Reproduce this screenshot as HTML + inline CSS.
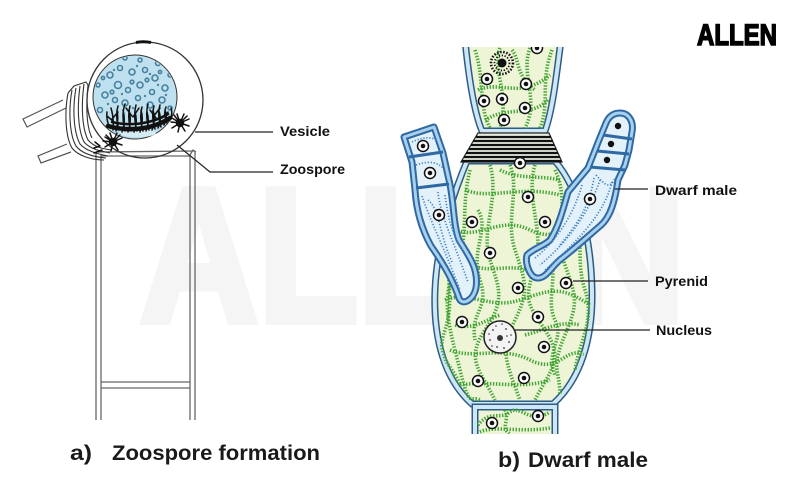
<!DOCTYPE html>
<html><head><meta charset="utf-8"><style>
html,body{margin:0;padding:0;background:#fff;}
svg{display:block;}
text{font-family:"Liberation Sans",Arial,sans-serif;}
</style></head><body>
<svg width="800" height="497" viewBox="0 0 800 497" xmlns="http://www.w3.org/2000/svg">
<defs>
  <clipPath id="rc"><rect x="0" y="47" width="800" height="387"/></clipPath>
  <clipPath id="mainc"><path d="M 467,161 C 455,190 437,240 435,290 C 433,340 445,380 472,404 L 553,404 C 580,380 593,340 592,290 C 591,240 580,190 555,161 Z"/></clipPath>
  <clipPath id="upc"><path d="M 465,40 C 469,80 474,112 482,131 L 545,131 C 552,112 556,80 561,40 Z"/></clipPath>
  <clipPath id="lowc"><rect x="475" y="407" width="80" height="30"/></clipPath>
  <clipPath id="sph"><circle cx="135" cy="97" r="41"/></clipPath>
</defs>
<rect width="800" height="497" fill="#fff"/>
<!-- watermark -->
<text x="140" y="321" font-size="190" font-weight="bold" fill="#f5f5f5" textLength="545" lengthAdjust="spacingAndGlyphs" stroke="#f5f5f5" stroke-width="8">ALLEN</text>
<!-- logo -->
<text x="697" y="45" font-size="30" font-weight="900" fill="#000" textLength="80" lengthAdjust="spacingAndGlyphs" stroke="#000" stroke-width="1.6">ALLEN</text>

<!-- ============ LEFT DIAGRAM ============ -->
<g stroke="#666" stroke-width="1.3" fill="none">
  <line x1="96" y1="152" x2="96" y2="420"/>
  <line x1="101" y1="155" x2="101" y2="420"/>
  <line x1="190" y1="155" x2="190" y2="420"/>
  <line x1="195" y1="151" x2="195" y2="420"/>
  <line x1="101" y1="382" x2="190" y2="382"/>
  <line x1="101" y1="388" x2="190" y2="388"/>
  <path d="M 96,152 L 195,151"/>
  <path d="M 101,156 L 190,156"/>
  <path d="M 190,155 L 193,150 L 196,152"/>
</g>
<!-- left appendage bars -->
<g stroke="#555" stroke-width="1.2" fill="#fff">
  <path d="M 63,100 L 23,119 L 27,127 L 66,108"/>
  <path d="M 67,144 L 38,156 L 41,163 L 71,152"/>
</g>
<g stroke="#333" stroke-width="1.1" fill="none">
  <path d="M 68,93 C 64,115 66,138 72,148 C 78,156 92,160 104,160"/>
  <path d="M 72,90 C 68,112 70,136 76,146 C 82,154 95,157 106,158"/>
  <path d="M 76,88 C 72,110 74,133 80,144 C 86,151 98,154 108,156"/>
  <path d="M 80,86 C 77,108 78,130 84,142 C 90,149 100,151 110,153"/>
  <path d="M 84,84 C 81,106 82,128 88,140 C 94,147 103,149 112,150"/>
  <path d="M 68,93 L 74,86 L 86,82 L 88,85"/>
  <path d="M 88,85 C 86,106 86,126 92,138"/>
</g>
<!-- outer vesicle circle -->
<circle cx="145" cy="100" r="58" fill="none" stroke="#333" stroke-width="1.3"/>
<path d="M 136,42.5 Q 143,41 151,42.5" stroke="#111" stroke-width="3" fill="none"/>
<!-- blue sphere -->
<circle cx="135" cy="97" r="42" fill="#bfe0ee" stroke="#333" stroke-width="1"/>
<g clip-path="url(#sph)" fill="none" stroke="#46829f" stroke-width="1.6">
  <circle cx="110" cy="75" r="3"/><circle cx="120" cy="68" r="2.5"/><circle cx="132" cy="72" r="3"/>
  <circle cx="145" cy="70" r="2.5"/><circle cx="155" cy="78" r="3"/><circle cx="165" cy="88" r="3"/>
  <circle cx="118" cy="85" r="3.5"/><circle cx="128" cy="90" r="2.5"/><circle cx="140" cy="85" r="3"/>
  <circle cx="152" cy="92" r="2.5"/><circle cx="162" cy="100" r="3"/><circle cx="105" cy="95" r="3"/>
  <circle cx="115" cy="100" r="2.5"/><circle cx="125" cy="103" r="3"/><circle cx="138" cy="98" r="2.5"/>
  <circle cx="150" cy="105" r="3"/><circle cx="100" cy="110" r="2.5"/><circle cx="170" cy="75" r="2"/>
  <circle cx="108" cy="62" r="2"/><circle cx="140" cy="60" r="2"/><circle cx="158" cy="63" r="2.5"/>
  <circle cx="125" cy="58" r="2"/><circle cx="170" cy="108" r="2"/><circle cx="98" cy="85" r="2"/>
  <circle cx="132" cy="82" r="1.8"/><circle cx="147" cy="80" r="1.8"/><circle cx="112" cy="92" r="1.8"/>
  <circle cx="160" cy="72" r="1.6"/><circle cx="103" cy="78" r="1.6"/>
</g>
<g clip-path="url(#sph)" fill="#4a86a3">
  <circle cx="114" cy="70" r="1.2"/><circle cx="137" cy="66" r="1.2"/><circle cx="150" cy="74" r="1.2"/>
  <circle cx="122" cy="94" r="1.2"/><circle cx="145" cy="96" r="1.2"/><circle cx="158" cy="85" r="1.2"/>
  <circle cx="108" cy="104" r="1.2"/><circle cx="133" cy="108" r="1.2"/><circle cx="166" cy="95" r="1.2"/>
</g>
<ellipse cx="138" cy="133" rx="18" ry="4" fill="#d6ecf4"/>
<!-- zoospore hairs -->
<g stroke="#111" stroke-width="1.5" fill="none" stroke-linecap="round">
  <path d="M110,128 Q106,120 107,112 M113,130 Q114,118 111,108 M116,131 Q119,120 117,110 M119,130 Q115,116 118,106 M122,132 Q126,121 123,110 M125,131 Q121,115 125,104 M128,132 Q132,120 129,110 M131,131 Q127,117 130,106 M134,132 Q138,122 135,112 M137,131 Q133,116 136,105 M140,132 Q144,120 141,110 M143,131 Q139,118 142,107 M146,131 Q150,122 147,112 M149,130 Q145,115 148,104 M152,130 Q156,120 153,110 M155,129 Q151,116 154,106 M158,128 Q162,120 159,111 M161,127 Q157,114 160,105 M164,125 Q168,118 165,110 M167,123 Q163,114 166,107 M170,120 Q173,114 171,108"/>
  <path d="M107,116 L114,122 M118,112 L112,119 M126,108 L132,116 M139,108 L133,117 M150,110 L156,118 M160,108 L153,117 M168,112 L162,118"/>
  <path d="M108,126 C 125,131 150,131 170,118" stroke-width="4.5"/>
  <path d="M112,122 C 128,126 150,125 168,114" stroke-width="2.5"/>
  <path d="M180,123 l-8,-5 M180,123 l-3,-9 M180,123 l4,-9 M180,123 l9,-4 M180,123 l9,3 M180,123 l5,8 M180,123 l-2,9 M180,123 l-8,5 M180,123 l-9,-1 M180,123 l-6,-8 M180,123 l7,-7"/>
  <circle cx="180" cy="123" r="3.5" fill="#111"/>
  <path d="M113,142 l-8,-5 M113,142 l-3,-9 M113,142 l4,-9 M113,142 l9,-4 M113,142 l9,3 M113,142 l5,8 M113,142 l-2,9 M113,142 l-8,5 M113,142 l-10,-1 M113,142 l-7,-7 M113,142 l7,-7"/>
  <circle cx="113" cy="142" r="3.5" fill="#111"/>
  <path d="M100,146 l-6,2 M100,146 l-5,-4 M102,150 l-8,3"/>
</g>
<!-- left leaders -->
<g stroke="#222" stroke-width="1.2" fill="none">
  <path d="M 195,132 L 273,132"/>
  <path d="M 177,145 L 210,172 L 273,172"/>
</g>
<text x="280" y="136" font-size="14" font-weight="bold" fill="#111" textLength="50" lengthAdjust="spacingAndGlyphs">Vesicle</text>
<text x="280" y="174" font-size="14" font-weight="bold" fill="#111" textLength="65" lengthAdjust="spacingAndGlyphs">Zoospore</text>

<!-- ============ RIGHT DIAGRAM ============ -->
<g clip-path="url(#rc)">
  <!-- upper cell -->
  <path d="M 465,40 C 469,80 474,112 482,131 L 545,131 C 552,112 556,80 561,40 Z" fill="#eef4d6" stroke="#2b5d87" stroke-width="7"/>
  <path d="M 465,40 C 469,80 474,112 482,131 L 545,131 C 552,112 556,80 561,40 Z" fill="none" stroke="#cfe6f4" stroke-width="4"/>
  <g clip-path="url(#upc)" fill="none" stroke="#44a536" stroke-width="3.6" stroke-dasharray="1.4 1.6">
    <path d="M 475,50 C 485,80 478,105 490,128"/>
    <path d="M 500,48 C 492,70 510,95 500,128"/>
    <path d="M 530,48 C 520,75 540,100 525,128"/>
    <path d="M 552,50 C 540,80 550,105 540,128"/>
    <path d="M 478,90 C 500,80 520,100 550,75"/>
    <path d="M 485,120 C 510,105 530,118 548,100"/>
    <path d="M 512,50 C 520,60 515,75 535,90"/>
  </g>
  <!-- main cell -->
  <path d="M 467,161 C 455,190 437,240 435,290 C 433,340 445,380 472,404 L 553,404 C 580,380 593,340 592,290 C 591,240 580,190 555,161 Z" fill="#eef4d6" stroke="#2b5d87" stroke-width="7"/>
  <path d="M 467,161 C 455,190 437,240 435,290 C 433,340 445,380 472,404 L 553,404 C 580,380 593,340 592,290 C 591,240 580,190 555,161 Z" fill="none" stroke="#cfe6f4" stroke-width="4"/>
  <g clip-path="url(#mainc)" fill="none" stroke="#44a536" stroke-width="3.6" stroke-dasharray="1.4 1.6">
    <path d="M 470,170 C 460,210 470,240 455,270 S 450,330 460,370 S 470,395 480,400"/>
    <path d="M 490,165 C 500,200 480,230 490,260 S 505,300 485,330 S 480,370 495,400"/>
    <path d="M 510,165 C 520,190 505,220 515,250 S 530,290 515,320 S 505,360 520,400"/>
    <path d="M 535,165 C 525,200 545,230 535,265 S 525,300 545,330 S 550,370 535,400"/>
    <path d="M 555,170 C 570,200 555,235 565,265 S 580,300 565,335 S 560,370 560,395"/>
    <path d="M 575,200 C 585,230 575,260 585,290 S 580,340 575,370"/>
    <path d="M 450,250 C 445,280 455,300 445,330 S 450,360 460,385"/>
    <path d="M 455,230 C 480,240 500,215 530,230 S 570,215 585,240"/>
    <path d="M 445,300 C 470,290 490,310 520,300 S 560,285 590,305"/>
    <path d="M 450,350 C 475,360 500,345 530,360 S 565,345 585,355"/>
    <path d="M 465,190 C 490,200 520,185 560,195"/>
    <path d="M 460,385 C 490,380 520,390 550,380"/>
    <path d="M 500,170 C 520,180 540,175 560,180"/>
    <path d="M 478,210 C 490,230 470,250 480,280 S 470,310 475,340"/>
    <path d="M 548,250 C 560,275 545,300 555,320 S 545,350 555,375"/>
    <path d="M 470,265 C 495,275 510,260 540,275"/>
    <path d="M 455,325 C 475,330 485,320 500,315"/>
    <path d="M 525,335 C 545,330 560,320 580,325"/>
  </g>
  <!-- lower cell -->
  <path d="M 475,445 L 475,407 L 555,407 L 555,445" fill="#eef4d6" stroke="#2b5d87" stroke-width="7"/>
  <path d="M 475,445 L 475,407 L 555,407 L 555,445" fill="none" stroke="#cfe6f4" stroke-width="4"/>
  <g clip-path="url(#lowc)" fill="none" stroke="#44a536" stroke-width="3.6" stroke-dasharray="1.4 1.6">
    <path d="M 478,425 C 490,410 500,420 510,412 S 530,425 550,412"/>
    <path d="M 480,432 C 495,425 520,433 550,428"/>
    <path d="M 505,410 C 510,420 500,428 510,434"/>
  </g>
  <!-- rings -->
  <polygon points="478,133 549,133 562,162 461,162" fill="#e8eee0" stroke="#222" stroke-width="1.2"/>
  <g stroke="#111" stroke-width="2.2">
    <line x1="476" y1="137" x2="551" y2="137"/>
    <line x1="473" y1="141" x2="553" y2="141"/>
    <line x1="471" y1="145" x2="554" y2="145"/>
    <line x1="469" y1="149" x2="556" y2="149"/>
    <line x1="466" y1="153" x2="558" y2="153"/>
    <line x1="464" y1="157" x2="560" y2="157"/>
    <line x1="462" y1="161" x2="561" y2="161"/>
  </g>
  <!-- upper nucleus dotted -->
  <circle cx="502" cy="63" r="11" fill="none" stroke="#111" stroke-width="2.6" stroke-dasharray="1.5 1.6"/>
  <circle cx="502" cy="63" r="7.5" fill="none" stroke="#111" stroke-width="1.8" stroke-dasharray="1.3 1.6"/>
  <circle cx="502" cy="63" r="4.5" fill="#111"/>
  <!-- pyrenoids -->
  <g fill="#fff" stroke="#111" stroke-width="1.5">
    <circle cx="537" cy="48" r="5.5"/>
    <circle cx="487" cy="79" r="5.5"/><circle cx="526" cy="84" r="5.5"/><circle cx="484" cy="101" r="5.5"/>
    <circle cx="502" cy="99" r="5.5"/><circle cx="525" cy="108" r="5.5"/><circle cx="504" cy="120" r="5.5"/>
    <circle cx="520" cy="163" r="5.5"/><circle cx="528" cy="197" r="5.5"/><circle cx="472" cy="222" r="5.5"/>
    <circle cx="545" cy="222" r="5.5"/><circle cx="490" cy="253" r="5.5"/><circle cx="518" cy="288" r="5.5"/>
    <circle cx="566" cy="283" r="5.5"/><circle cx="462" cy="322" r="5.5"/><circle cx="538" cy="317" r="5.5"/>
    <circle cx="544" cy="347" r="5.5"/><circle cx="478" cy="381" r="5.5"/><circle cx="524" cy="378" r="5.5"/>
    <circle cx="492" cy="423" r="5.5"/><circle cx="538" cy="416" r="5.5"/>
  </g>
  <g fill="#111">
    <circle cx="537" cy="48" r="2.3"/>
    <circle cx="487" cy="79" r="2.3"/><circle cx="526" cy="84" r="2.3"/><circle cx="484" cy="101" r="2.3"/>
    <circle cx="502" cy="99" r="2.3"/><circle cx="525" cy="108" r="2.3"/><circle cx="504" cy="120" r="2.3"/>
    <circle cx="520" cy="163" r="2.3"/><circle cx="528" cy="197" r="2.3"/><circle cx="472" cy="222" r="2.3"/>
    <circle cx="545" cy="222" r="2.3"/><circle cx="490" cy="253" r="2.3"/><circle cx="518" cy="288" r="2.3"/>
    <circle cx="566" cy="283" r="2.3"/><circle cx="462" cy="322" r="2.3"/><circle cx="538" cy="317" r="2.3"/>
    <circle cx="544" cy="347" r="2.3"/><circle cx="478" cy="381" r="2.3"/><circle cx="524" cy="378" r="2.3"/>
    <circle cx="492" cy="423" r="2.3"/><circle cx="538" cy="416" r="2.3"/>
  </g>
  <!-- nucleus -->
  <circle cx="500" cy="337" r="16" fill="#f3f3f3" stroke="#222" stroke-width="1.5"/>
  <g fill="#333">
    <circle cx="500" cy="338" r="3"/>
    <circle cx="493" cy="330" r="0.9"/><circle cx="506" cy="329" r="0.9"/><circle cx="490" cy="340" r="0.9"/>
    <circle cx="509" cy="342" r="0.9"/><circle cx="497" cy="347" r="0.9"/><circle cx="504" cy="348" r="0.9"/>
    <circle cx="496" cy="326" r="0.8"/><circle cx="502" cy="324" r="0.8"/><circle cx="511" cy="335" r="0.8"/>
    <circle cx="489" cy="334" r="0.8"/><circle cx="492" cy="346" r="0.8"/><circle cx="507" cy="336" r="0.8"/>
  </g>

  <!-- left dwarf male -->
  <path d="M 404,137 L 434,127 L 443,153 L 449,180 C 454,200 453,225 459,240 C 468,255 479,268 476,288 C 473,301 462,306 459,298 C 453,280 443,263 431,246 C 420,226 416,206 415,190 L 412,162 Z" fill="#e3f1fa" stroke="#2f69a3" stroke-width="7" stroke-linejoin="round"/>
  <path d="M 404,137 L 434,127 L 443,153 L 449,180 C 454,200 453,225 459,240 C 468,255 479,268 476,288 C 473,301 462,306 459,298 C 453,280 443,263 431,246 C 420,226 416,206 415,190 L 412,162 Z" fill="none" stroke="#a9d0ec" stroke-width="3" stroke-linejoin="round"/>
  <g stroke="#2f69a3" stroke-width="3" fill="none">
    <path d="M 409,157 L 443,152"/>
    <path d="M 416,188 L 449,184"/>
  </g>
  <g stroke="#3f82c6" stroke-width="1.7" stroke-dasharray="1.2 1.8" fill="none">
    <path d="M 422,196 C 430,220 445,250 460,290"/>
    <path d="M 438,192 C 440,215 455,245 468,282"/>
    <path d="M 428,200 C 440,210 438,230 452,262"/>
    <path d="M 445,195 C 448,215 450,230 462,250"/>
    <path d="M 412,142 C 420,138 430,136 436,140"/>
    <path d="M 416,165 C 425,162 435,160 443,168"/>
  </g>
  <!-- right dwarf male -->
  <path d="M 620,113 C 629,113 634,122 632,132 L 629,150 L 625,165 L 618,180 C 615,200 611,217 600,226 C 586,238 573,250 561,259 C 551,267 546,279 537,278 C 529,277 525,262 527,255 C 534,248 544,246 550,240 C 558,228 563,210 568,192 L 588,168 L 599,140 L 606,123 C 609,116 614,113 620,113 Z" fill="#e3f1fa" stroke="#2f69a3" stroke-width="7" stroke-linejoin="round"/>
  <path d="M 620,113 C 629,113 634,122 632,132 L 629,150 L 625,165 L 618,180 C 615,200 611,217 600,226 C 586,238 573,250 561,259 C 551,267 546,279 537,278 C 529,277 525,262 527,255 C 534,248 544,246 550,240 C 558,228 563,210 568,192 L 588,168 L 599,140 L 606,123 C 609,116 614,113 620,113 Z" fill="none" stroke="#a9d0ec" stroke-width="3" stroke-linejoin="round"/>
  <g stroke="#2f69a3" stroke-width="3" fill="none">
    <path d="M 603,135 L 632,139"/>
    <path d="M 597,151 L 629,154"/>
    <path d="M 590,167 L 625,170"/>
  </g>
  <g stroke="#3f82c6" stroke-width="1.7" stroke-dasharray="1.2 1.8" fill="none">
    <path d="M 600,180 C 590,210 570,240 540,265"/>
    <path d="M 612,182 C 605,210 585,235 545,270"/>
    <path d="M 582,185 C 575,210 560,238 535,258"/>
    <path d="M 594,178 C 590,200 585,215 560,245"/>
    <path d="M 596,175 C 605,185 610,190 615,178"/>
  </g>
  <g fill="#111">
    <circle cx="618" cy="126" r="3.2"/><circle cx="611" cy="144" r="3.2"/><circle cx="607" cy="160" r="3.2"/>
  </g>
  <g fill="#fff" stroke="#111" stroke-width="1.5">
    <circle cx="423" cy="146" r="5.5"/><circle cx="430" cy="173" r="5.5"/><circle cx="439" cy="215" r="5.5"/>
    <circle cx="590" cy="199" r="5.5"/>
  </g>
  <g fill="#111">
    <circle cx="423" cy="146" r="2.3"/><circle cx="430" cy="173" r="2.3"/><circle cx="439" cy="215" r="2.3"/>
    <circle cx="590" cy="199" r="2.3"/>
  </g>
</g>
<!-- right leaders -->
<g stroke="#222" stroke-width="1.2" fill="none">
  <path d="M 615,189 L 648,189"/>
  <path d="M 573,281 L 648,281"/>
  <path d="M 515,330 L 650,330"/>
</g>
<text x="655" y="195" font-size="14" font-weight="bold" fill="#111" textLength="82" lengthAdjust="spacingAndGlyphs">Dwarf male</text>
<text x="655" y="286" font-size="14" font-weight="bold" fill="#111" textLength="53" lengthAdjust="spacingAndGlyphs">Pyrenid</text>
<text x="656" y="335" font-size="14" font-weight="bold" fill="#111" textLength="56" lengthAdjust="spacingAndGlyphs">Nucleus</text>

<!-- titles -->
<text x="70" y="460" font-size="21" font-weight="bold" fill="#1a1a1a" textLength="22" lengthAdjust="spacingAndGlyphs">a)</text>
<text x="112" y="460" font-size="21" font-weight="bold" fill="#1a1a1a" textLength="208" lengthAdjust="spacingAndGlyphs">Zoospore formation</text>
<text x="498" y="467" font-size="21" font-weight="bold" fill="#1a1a1a" textLength="22" lengthAdjust="spacingAndGlyphs">b)</text>
<text x="528" y="467" font-size="21" font-weight="bold" fill="#1a1a1a" textLength="120" lengthAdjust="spacingAndGlyphs">Dwarf male</text>
</svg>
</body></html>
